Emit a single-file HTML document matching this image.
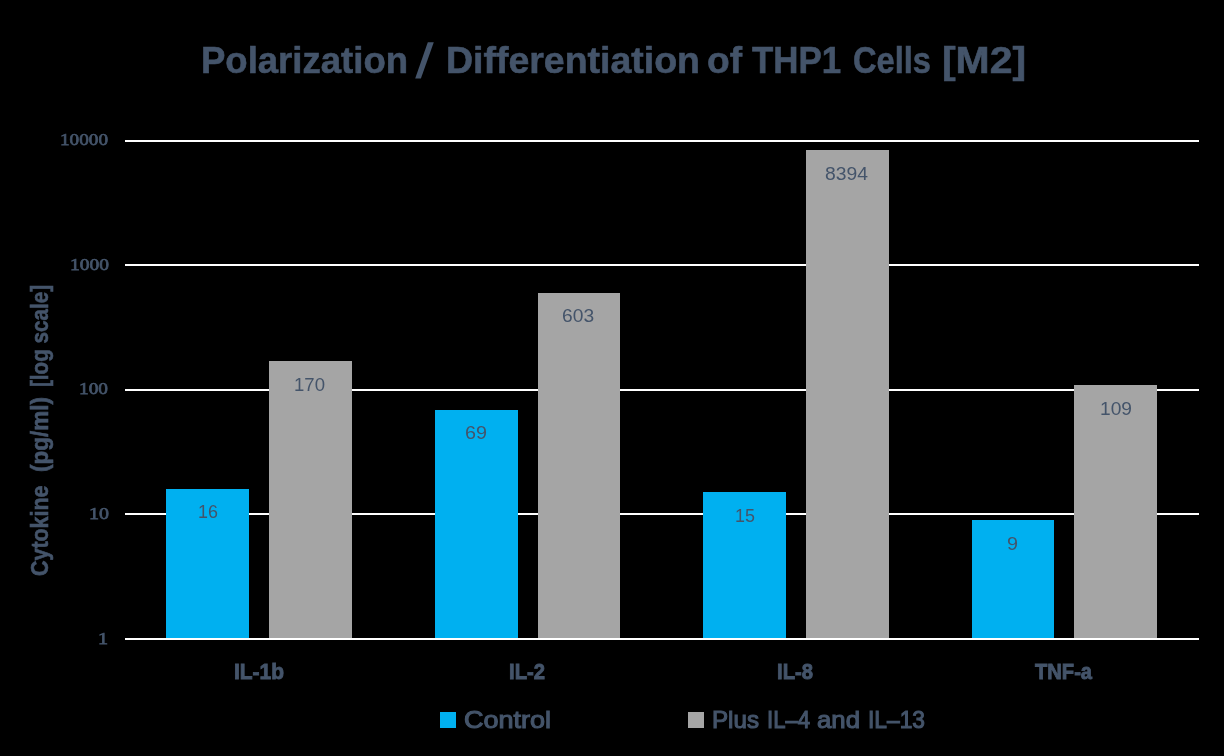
<!DOCTYPE html>
<html>
<head>
<meta charset="utf-8">
<title>Polarization / Differentiation of THP1 Cells [M2]</title>
<style>
html,body{margin:0;padding:0;background:#000;}
body{width:1224px;height:756px;overflow:hidden;position:relative;}
svg{position:absolute;left:0;top:0;display:block;will-change:transform;}
</style>
</head>
<body>
<svg width="1224" height="756" viewBox="0 0 1224 756">
<rect x="0" y="0" width="1224" height="756" fill="#000"/>
<!-- gridlines -->
<g fill="#FFFFFF">
<rect x="125" y="140" width="1074" height="2"/>
<rect x="125" y="264" width="1074" height="2"/>
<rect x="125" y="389" width="1074" height="2"/>
<rect x="125" y="513" width="1074" height="2"/>
</g>
<!-- bars: Control -->
<g fill="#00B0F0">
<rect x="166" y="489" width="83" height="149"/>
<rect x="435" y="410" width="83" height="228"/>
<rect x="703" y="492" width="83" height="146"/>
<rect x="972" y="520" width="82" height="118"/>
</g>
<!-- bars: Plus IL-4 and IL-13 -->
<g fill="#A5A5A5">
<rect x="269" y="361" width="83" height="277"/>
<rect x="538" y="293" width="82" height="345"/>
<rect x="806" y="150" width="83" height="488"/>
<rect x="1074" y="385" width="83" height="253"/>
</g>
<!-- category axis line -->
<rect x="125" y="638" width="1074" height="2" fill="#FFFFFF"/>
<!-- title slash -->
<polygon points="427.8,42.3 433.8,42.3 420.9,78.6 415.2,78.6" fill="#44546A"/>
<!-- y axis title -->
<g transform="translate(48,575) rotate(-90)" font-family="'Liberation Sans', sans-serif" font-size="24" font-weight="bold" fill="#44546A" stroke="#44546A" stroke-width="0.6">
<text x="-1" y="0" textLength="90.5" lengthAdjust="spacingAndGlyphs">Cytokine</text>
<text x="103" y="0" textLength="75" lengthAdjust="spacingAndGlyphs">(pg/ml)</text>
<text x="188" y="0" textLength="102" lengthAdjust="spacingAndGlyphs">[log scale]</text>
</g>
<!-- legend markers -->
<rect x="440" y="712" width="16" height="16" fill="#00B0F0"/>
<rect x="688" y="712" width="16" height="16" fill="#A5A5A5"/>
<!-- texts -->
<text x="198.05" y="518" textLength="19.95" lengthAdjust="spacingAndGlyphs" fill="#44546A" font-family="'Liberation Sans', sans-serif" font-size="18">16</text>
<text x="294.03" y="391" textLength="30.97" lengthAdjust="spacingAndGlyphs" fill="#44546A" font-family="'Liberation Sans', sans-serif" font-size="18">170</text>
<text x="465.00" y="439" textLength="22.00" lengthAdjust="spacingAndGlyphs" fill="#44546A" font-family="'Liberation Sans', sans-serif" font-size="18">69</text>
<text x="562.03" y="322" textLength="32.07" lengthAdjust="spacingAndGlyphs" fill="#44546A" font-family="'Liberation Sans', sans-serif" font-size="18">603</text>
<text x="735.05" y="522" textLength="19.95" lengthAdjust="spacingAndGlyphs" fill="#44546A" font-family="'Liberation Sans', sans-serif" font-size="18">15</text>
<text x="825.02" y="180" textLength="42.98" lengthAdjust="spacingAndGlyphs" fill="#44546A" font-family="'Liberation Sans', sans-serif" font-size="18">8394</text>
<text x="1007.00" y="550" textLength="11.00" lengthAdjust="spacingAndGlyphs" fill="#44546A" font-family="'Liberation Sans', sans-serif" font-size="18">9</text>
<text x="1100.00" y="415" textLength="32.00" lengthAdjust="spacingAndGlyphs" fill="#44546A" font-family="'Liberation Sans', sans-serif" font-size="18">109</text>
<text x="60.02" y="144.9" textLength="47.98" lengthAdjust="spacingAndGlyphs" fill="#44546A" font-family="'Liberation Serif', serif" font-size="17.7" stroke="#44546A" stroke-width="0.75">10000</text>
<text x="70.03" y="269.9" textLength="38.97" lengthAdjust="spacingAndGlyphs" fill="#44546A" font-family="'Liberation Serif', serif" font-size="17.7" stroke="#44546A" stroke-width="0.75">1000</text>
<text x="79.03" y="393.9" textLength="28.97" lengthAdjust="spacingAndGlyphs" fill="#44546A" font-family="'Liberation Serif', serif" font-size="17.7" stroke="#44546A" stroke-width="0.75">100</text>
<text x="89.05" y="518.9" textLength="19.95" lengthAdjust="spacingAndGlyphs" fill="#44546A" font-family="'Liberation Serif', serif" font-size="17.7" stroke="#44546A" stroke-width="0.75">10</text>
<text x="98.09" y="643.9" textLength="10.02" lengthAdjust="spacingAndGlyphs" fill="#44546A" font-family="'Liberation Serif', serif" font-size="17.7" stroke="#44546A" stroke-width="0.75">1</text>
<text x="234.02" y="678.5" textLength="49.98" lengthAdjust="spacingAndGlyphs" fill="#44546A" font-family="'Liberation Sans', sans-serif" font-size="22.4" font-weight="bold" stroke="#44546A" stroke-width="0.9">IL-1b</text>
<text x="509.03" y="678.5" textLength="35.97" lengthAdjust="spacingAndGlyphs" fill="#44546A" font-family="'Liberation Sans', sans-serif" font-size="22.4" font-weight="bold" stroke="#44546A" stroke-width="0.9">IL-2</text>
<text x="777.03" y="678.5" textLength="35.97" lengthAdjust="spacingAndGlyphs" fill="#44546A" font-family="'Liberation Sans', sans-serif" font-size="22.4" font-weight="bold" stroke="#44546A" stroke-width="0.9">IL-8</text>
<text x="1034.98" y="678.5" textLength="57.08" lengthAdjust="spacingAndGlyphs" fill="#44546A" font-family="'Liberation Sans', sans-serif" font-size="22.4" font-weight="bold" stroke="#44546A" stroke-width="0.9">TNF-a</text>
<text x="464.00" y="728.1" textLength="86.99" lengthAdjust="spacingAndGlyphs" fill="#44546A" font-family="'Liberation Sans', sans-serif" font-size="24.5" stroke="#44546A" stroke-width="1.1">Control</text>
<text x="712.02" y="728.1" textLength="46.98" lengthAdjust="spacingAndGlyphs" fill="#44546A" font-family="'Liberation Sans', sans-serif" font-size="24.5" stroke="#44546A" stroke-width="1.1">Plus</text>
<text x="767.02" y="728.1" textLength="42.98" lengthAdjust="spacingAndGlyphs" fill="#44546A" font-family="'Liberation Sans', sans-serif" font-size="24.5" stroke="#44546A" stroke-width="1.1">IL&#8211;4</text>
<text x="817.00" y="728.1" textLength="42.98" lengthAdjust="spacingAndGlyphs" fill="#44546A" font-family="'Liberation Sans', sans-serif" font-size="24.5" stroke="#44546A" stroke-width="1.1">and</text>
<text x="868.02" y="728.1" textLength="56.98" lengthAdjust="spacingAndGlyphs" fill="#44546A" font-family="'Liberation Sans', sans-serif" font-size="24.5" stroke="#44546A" stroke-width="1.1">IL&#8211;13</text>
<text x="200.98" y="72.6" textLength="207.07" lengthAdjust="spacingAndGlyphs" fill="#44546A" font-family="'Liberation Sans', sans-serif" font-size="37.6" font-weight="bold" stroke="#44546A" stroke-width="0.6">Polarization</text>
<text x="445.98" y="72.6" textLength="254.03" lengthAdjust="spacingAndGlyphs" fill="#44546A" font-family="'Liberation Sans', sans-serif" font-size="37.6" font-weight="bold" stroke="#44546A" stroke-width="0.6">Differentiation</text>
<text x="707.05" y="72.6" textLength="35.00" lengthAdjust="spacingAndGlyphs" fill="#44546A" font-family="'Liberation Sans', sans-serif" font-size="37.6" font-weight="bold" stroke="#44546A" stroke-width="0.6">of</text>
<text x="752.00" y="72.6" textLength="89.00" lengthAdjust="spacingAndGlyphs" fill="#44546A" font-family="'Liberation Sans', sans-serif" font-size="37.6" font-weight="bold" stroke="#44546A" stroke-width="0.6">THP1</text>
<text x="853.00" y="72.6" textLength="78.00" lengthAdjust="spacingAndGlyphs" fill="#44546A" font-family="'Liberation Sans', sans-serif" font-size="37.6" font-weight="bold" stroke="#44546A" stroke-width="0.6">Cells</text>
<text x="941.95" y="72.6" textLength="84.18" lengthAdjust="spacingAndGlyphs" fill="#44546A" font-family="'Liberation Sans', sans-serif" font-size="37.6" font-weight="bold" stroke="#44546A" stroke-width="0.6">[M2]</text>
</svg>
</body>
</html>
